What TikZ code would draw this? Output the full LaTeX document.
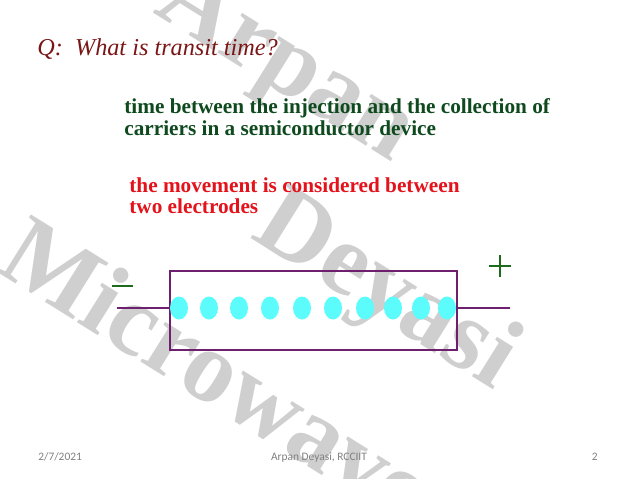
\documentclass[tikz,border=0pt]{standalone}
\usepackage{fontspec}
\setmainfont{Liberation Serif}
\newfontfamily\footfont{Carlito}
\usetikzlibrary{positioning}

\definecolor{titlered}{HTML}{7A1616}
\definecolor{textgreen}{HTML}{0F4A1F}
\definecolor{textred}{HTML}{E3121B}
\definecolor{tubepurple}{HTML}{6E1F6E}
\definecolor{carriercyan}{HTML}{5CFCFC}
\definecolor{signgreen}{HTML}{1E6B1E}

\begin{document}
\begin{tikzpicture}[x=0.02cm, y=0.02cm,
    watermark/.style={text=black!19, inner sep=0pt, rotate=-32,
        font=\bfseries\fontsize{58}{58}\selectfont},
    textline/.style={anchor=base west, inner sep=0pt,
        font=\bfseries\fontsize{12.1}{14}\selectfont},
    footer/.style={anchor=base, inner sep=0pt, text=black!50,
        font=\footfont\fontsize{6.5}{7}\selectfont},
    electrode/.style={draw=tubepurple, line width=1.1pt},
    sign/.style={draw=signgreen, line width=1pt}]
    \useasboundingbox (0, 0) rectangle (638, 478);
    \node[watermark] (wmarpan) at (285, 410) {Arpan};
    \node[watermark] (wmdeyasi) at (385, 185) {Deyasi};
    \node[watermark] (wmmicro) at (235, 98) {Microwaves};

    \node[textline, anchor=base west, text=titlered,
        font=\itshape\fontsize{13.8}{15}\selectfont] (question) at (37, 423) {Q:\ \ What is transit time?};
    \node[textline, text=textgreen] (defone) at (124, 365) {time between the injection and the collection of};
    \node[textline, text=textgreen] (deftwo) at (124, 343) {carriers in a semiconductor device};
    \node[textline, text=textred] (moveone) at (129, 286) {the movement is considered between};
    \node[textline, text=textred] (movetwo) at (129, 265) {two electrodes};

    \node[electrode, minimum width=5.74cm, minimum height=1.58cm, inner sep=0pt] (device) at (313.5, 167.5) {};
    \coordinate (cathode) at (117, 170);
    \coordinate (anode) at (510, 170);
    \draw[electrode] (cathode) -- (device.west |- cathode);
    \draw[electrode] (device.east |- anode) -- (anode);
    \foreach \cx in {179, 209, 239, 270, 302, 333, 365, 393, 421, 447}
        \fill[carriercyan] (\cx, 170) ellipse (9 and 11.5);

    \coordinate (minus) at (122.5, 192);
    \coordinate (plus) at (500, 212);
    \draw[sign] ([xshift=-0.21cm]minus) -- ([xshift=0.21cm]minus);
    \draw[sign] ([xshift=-0.22cm]plus) -- ([xshift=0.22cm]plus);
    \draw[sign] ([yshift=-0.22cm]plus) -- ([yshift=0.22cm]plus);

    \node[footer, anchor=base west] (date) at (38, 18) {2/7/2021};
    \node[footer] (author) at (319, 18) {Arpan Deyasi, RCCIIT};
    \node[footer, anchor=base east] (page) at (598, 18) {2};
\end{tikzpicture}
\end{document}
